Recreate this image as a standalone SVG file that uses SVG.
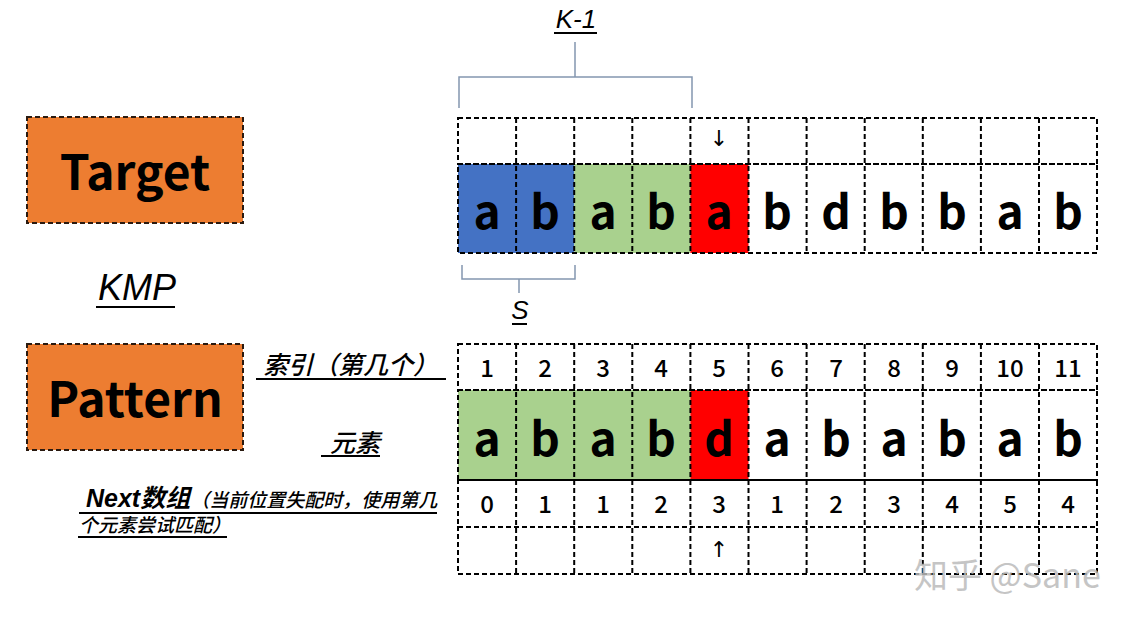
<svg xmlns="http://www.w3.org/2000/svg" width="1133" height="621" viewBox="0 0 1133 621">
<style>
.cell{fill:none;stroke:#000;stroke-width:2;stroke-dasharray:5 3}
.box{fill:#ED7D31;stroke:#2a1a10;stroke-width:2;stroke-dasharray:5 3}
.big{font-family:"Noto Sans CJK SC","Noto Sans",sans-serif;font-weight:bold;font-size:46px;text-anchor:middle;fill:#000}
.num{font-family:"Noto Sans CJK SC","Noto Sans",sans-serif;font-weight:500;font-size:24px;text-anchor:middle;fill:#000}
.arr{font-family:"DejaVu Sans",sans-serif;font-size:22px;text-anchor:middle;fill:#000}
.title{font-family:"Noto Sans CJK SC","Noto Sans",sans-serif;font-weight:bold;font-size:48px;text-anchor:middle;fill:#000}
.lbl{font-family:"Liberation Sans","Noto Sans CJK SC",sans-serif;font-style:italic;fill:#000}
.cjk{font-family:"Noto Sans CJK SC",sans-serif;font-style:italic;font-weight:500;fill:#000}
.brk{fill:none;stroke:#8497B0;stroke-width:1.5}
.ul{stroke:#000;stroke-width:2}
</style>
<g id="target-box"><rect class="box" x="27" y="117" width="216" height="106"/><text class="title" x="135" y="190">Target</text></g>
<g id="pattern-box"><rect class="box" x="27" y="344" width="216" height="106"/><text class="title" x="135" y="417">Pattern</text></g>
<g id="kmp"><text class="lbl" x="137" y="300" font-size="36" text-anchor="middle">KMP</text><line class="ul" x1="96" y1="307" x2="175" y2="307"/></g>
<g id="target-grid">
<rect x="458" y="164" width="116.2" height="89" fill="#4472C4"/>
<rect x="574.2" y="164" width="116.2" height="89" fill="#A9D18E"/>
<rect x="690.4" y="164" width="58.1" height="89" fill="#FF0000"/>
<g class="cell">
<rect x="458" y="118" width="639" height="46"/><rect x="458" y="164" width="639" height="89"/>
<path d="M516.1 118V253M574.2 118V253M632.3 118V253M690.4 118V253M748.5 118V253M806.6 118V253M864.7 118V253M922.8 118V253M980.9 118V253M1039 118V253"/>
</g>
<text class="arr" x="719" y="146">↓</text>
<g class="big">
<text x="487" y="229">a</text><text x="545" y="229">b</text><text x="603" y="229">a</text><text x="661" y="229">b</text><text x="719" y="229">a</text><text x="777" y="229">b</text><text x="836" y="229">d</text><text x="894" y="229">b</text><text x="952" y="229">b</text><text x="1010" y="229">a</text><text x="1068" y="229">b</text>
</g>
</g>
<g id="pattern-grid">
<rect x="458" y="390" width="232.4" height="90" fill="#A9D18E"/>
<rect x="690.4" y="390" width="58.1" height="90" fill="#FF0000"/>
<g class="cell">
<rect x="458" y="344" width="639" height="46"/><rect x="458" y="390" width="639" height="90"/><rect x="458" y="480" width="639" height="47"/><rect x="458" y="527" width="639" height="47"/>
<path d="M516.1 344V574M574.2 344V574M632.3 344V574M690.4 344V574M748.5 344V574M806.6 344V574M864.7 344V574M922.8 344V574M980.9 344V574M1039 344V574"/>
</g>
<g class="num">
<text x="487" y="377">1</text><text x="545" y="377">2</text><text x="603" y="377">3</text><text x="661" y="377">4</text><text x="719" y="377">5</text><text x="777" y="377">6</text><text x="836" y="377">7</text><text x="894" y="377">8</text><text x="952" y="377">9</text><text x="1010" y="377">10</text><text x="1068" y="377">11</text>
</g>
<g class="big">
<text x="487" y="456">a</text><text x="545" y="456">b</text><text x="603" y="456">a</text><text x="661" y="456">b</text><text x="719" y="456">d</text><text x="777" y="456">a</text><text x="836" y="456">b</text><text x="894" y="456">a</text><text x="952" y="456">b</text><text x="1010" y="456">a</text><text x="1068" y="456">b</text>
</g>
<g class="num">
<text x="487" y="513">0</text><text x="545" y="513">1</text><text x="603" y="513">1</text><text x="661" y="513">2</text><text x="719" y="513">3</text><text x="777" y="513">1</text><text x="836" y="513">2</text><text x="894" y="513">3</text><text x="952" y="513">4</text><text x="1010" y="513">5</text><text x="1068" y="513">4</text>
</g>
<text class="arr" x="719" y="557">↑</text>
</g>
<g id="connectors">
<path class="brk" d="M459 108V77H692V108M575 77V42"/>
<path class="brk" d="M462 265V279H575V265M519 279V293"/>
</g>
<g id="k1"><text class="lbl" x="576" y="28" font-size="26" text-anchor="middle">K-1</text><line class="ul" x1="554" y1="33" x2="597" y2="33"/></g>
<g id="s"><text class="lbl" x="520" y="319" font-size="26" text-anchor="middle">S</text><line class="ul" x1="512" y1="324" x2="527" y2="324"/></g>
<g id="labels">
<text class="cjk" x="263" y="374" font-size="25">索引（第几个）</text><line class="ul" x1="256" y1="379" x2="446" y2="379"/>
<text class="cjk" x="330" y="452" font-size="25">元素</text><line class="ul" x1="321" y1="456" x2="380" y2="456"/>
<text class="lbl" x="86" y="507" font-size="25" font-weight="bold">Next数组<tspan class="cjk" font-size="19">（当前位置失配时，使用第几</tspan></text><line class="ul" x1="79" y1="513" x2="437" y2="513"/>
<text class="cjk" x="79" y="532" font-size="19">个元素尝试匹配）</text><line class="ul" x1="78" y1="537" x2="227" y2="537"/>
</g>
<g id="watermark"><text x="914" y="588" font-family="Noto Sans CJK SC,Noto Sans,sans-serif" font-size="34" fill="#bbbbbb" opacity="0.85">知乎 @Sane</text></g>
</svg>
